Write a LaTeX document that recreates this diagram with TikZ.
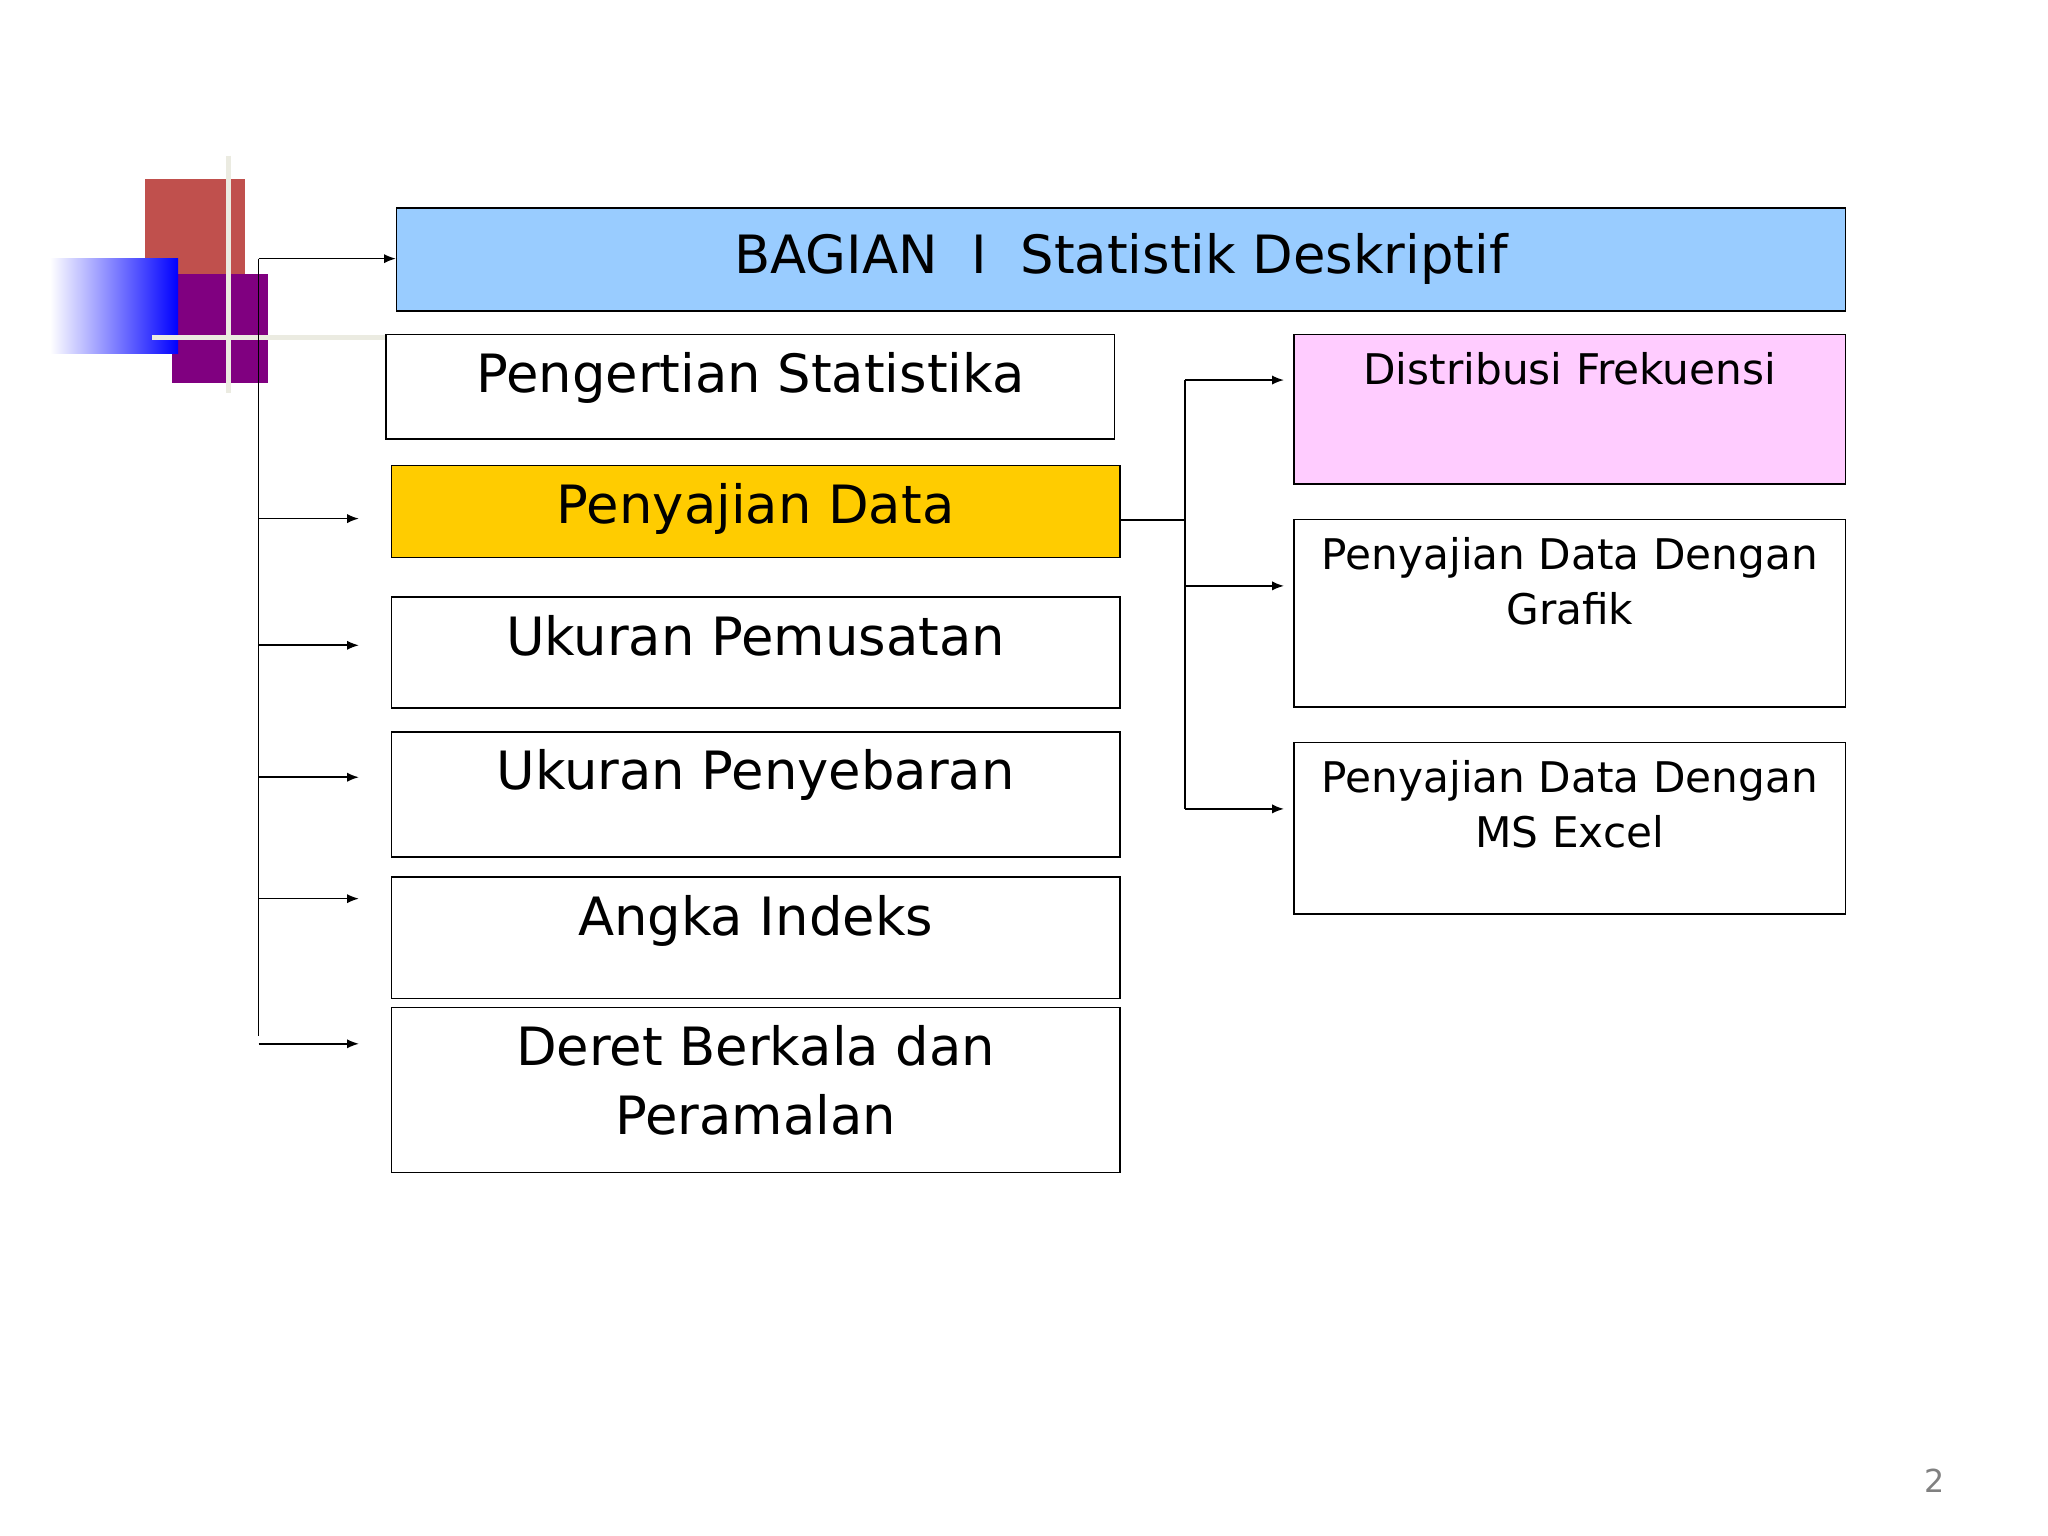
\documentclass[tikz,border=0pt]{standalone}
\usepackage{fontspec}
\setmainfont{DejaVu Sans}
\usetikzlibrary{arrows.meta,shadings}
\definecolor{dred}{RGB}{192,80,77}
\definecolor{dpurp}{RGB}{128,0,128}
\definecolor{lline}{RGB}{235,235,225}
\definecolor{tblue}{RGB}{153,204,255}
\definecolor{gold}{RGB}{255,204,0}
\definecolor{pink}{RGB}{255,204,255}
\begin{document}
\begin{tikzpicture}[x=1pt,y=-1pt,
  bx/.style={draw=black,line width=1.2pt,anchor=north west,inner sep=0pt},
  lbl/.style={anchor=north,align=center,inner sep=0pt},
  con/.style={line width=1.2pt},
  arr/.style={con,-{Latex[length=9pt,width=7pt]}}]
\useasboundingbox (0,0) rectangle (1552,1164);
\fill[white] (0,0) rectangle (1552,1164);
% decoration
\fill[dred] (110,136) rectangle (186,208);
\fill[dpurp] (130,208) rectangle (203,290);
\shade[left color=white,right color=blue] (38,196) rectangle (135,268);
\draw[line width=4pt,lline] (173,118) -- (173,298);
\draw[line width=4pt,lline] (115,256) -- (292,256);
% boxes
\node[bx,fill=tblue,minimum width=1098pt,minimum height=78pt] (t) at (300,157) {};
\node[font=\fontsize{40}{46}\selectfont] at (t.center) {BAGIAN\ \ I\ \ Statistik Deskriptif};
\node[bx,minimum width=552pt,minimum height=79pt] (a) at (292,253) {};
\node[lbl,font=\fontsize{40}{52}\selectfont] at ([yshift=-14pt]a.north) {Pengertian Statistika};
\node[bx,fill=gold,minimum width=552pt,minimum height=70pt] (b) at (296,352) {};
\node[lbl,font=\fontsize{40}{52}\selectfont] at ([yshift=-14pt]b.north) {Penyajian Data};
\node[bx,minimum width=552pt,minimum height=84pt] (c) at (296,452) {};
\node[lbl,font=\fontsize{40}{52}\selectfont] at ([yshift=-14pt]c.north) {Ukuran Pemusatan};
\node[bx,minimum width=552pt,minimum height=95pt] (d) at (296,554) {};
\node[lbl,font=\fontsize{40}{52}\selectfont] at ([yshift=-14pt]d.north) {Ukuran Penyebaran};
\node[bx,minimum width=552pt,minimum height=92pt] (e) at (296,664) {};
\node[lbl,font=\fontsize{40}{52}\selectfont] at ([yshift=-14pt]e.north) {Angka Indeks};
\node[bx,minimum width=552pt,minimum height=125pt] (f) at (296,763) {};
\node[lbl,font=\fontsize{40}{52}\selectfont] at ([yshift=-14pt]f.north) {Deret Berkala dan\\Peramalan};
\node[bx,fill=pink,minimum width=418pt,minimum height=113pt] (g) at (980,253) {};
\node[lbl,font=\fontsize{32}{42}\selectfont] at ([yshift=-14pt]g.north) {Distribusi Frekuensi};
\node[bx,minimum width=418pt,minimum height=142pt] (h) at (980,393) {};
\node[lbl,font=\fontsize{32}{42}\selectfont] at ([yshift=-14pt]h.north) {Penyajian Data Dengan\\Grafik};
\node[bx,minimum width=418pt,minimum height=130pt] (i) at (980,562) {};
\node[lbl,font=\fontsize{32}{42}\selectfont] at ([yshift=-14pt]i.north) {Penyajian Data Dengan\\MS Excel};
% connectors
\coordinate (L0) at (196,196); \coordinate (L6) at (196,785);
\draw[con] (L0) -- (L6);
\draw[arr] (L0) -- (t.west |- L0);
\foreach \y/\n in {393/1,489/2,589/3,681/4,791/5}{
  \coordinate (s\n) at (196,\y); \coordinate (e\n) at (272,\y);
  \draw[arr] (s\n) -- (e\n);}
\coordinate (R0) at (898,394); \coordinate (R1) at (898,288); \coordinate (R3) at (898,613);
\draw[con] (b.east |- R0) -- (R0);
\draw[con] (R1) -- (R3);
\coordinate (r2) at (898,444);
\draw[arr] (R1) -- (973,288);
\draw[arr] (r2) -- (973,444);
\draw[arr] (R3) -- (973,613);
\node[text=gray,font=\fontsize{24}{28}\selectfont] (pg) at (1466,1122) {2};
\end{tikzpicture}
\end{document}
